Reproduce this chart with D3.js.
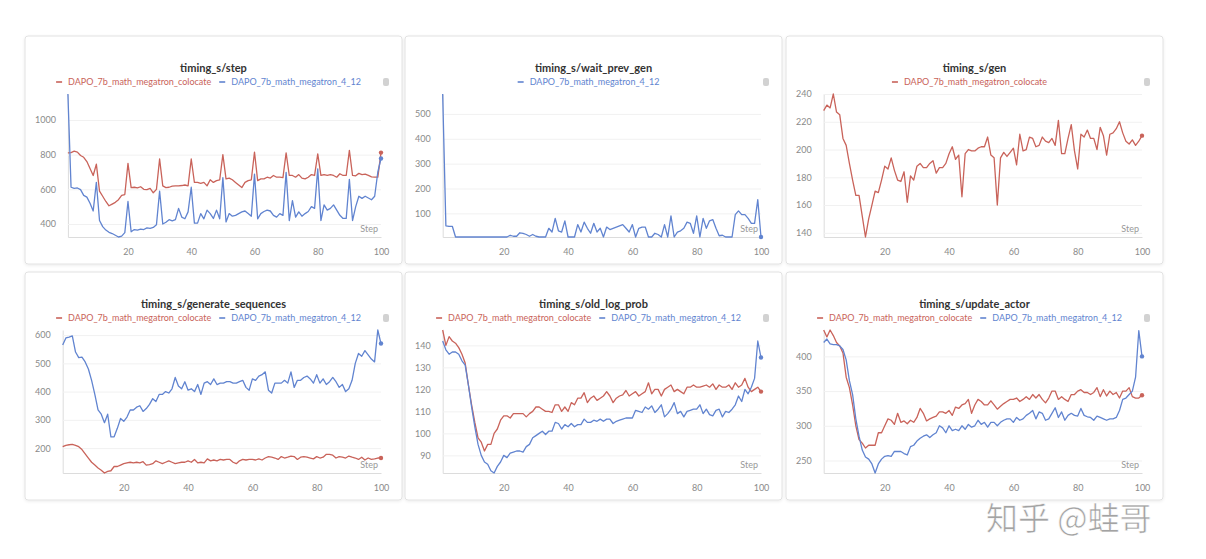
<!DOCTYPE html>
<html>
<head>
<meta charset="utf-8">
<script src="https://cdn.jsdelivr.net/npm/d3@7"></script>
<style>
  body { margin: 0; background: #fff; font-family: Lato, "Noto Sans", sans-serif; }
</style>
</head>
<body>
<svg id="chart" width="1206" height="559"></svg>
<script>
////////// dados

const steps = d3.range(1, 101);
const xTicks = [20, 40, 60, 80, 100];

const nameRed = 'DAPO_7b_math_megatron_colocate';
const nameBlue = 'DAPO_7b_math_megatron_4_12';

const titles = ['timing_s/step', 'timing_s/wait_prev_gen', 'timing_s/gen',
  'timing_s/generate_sequences', 'timing_s/old_log_prob', 'timing_s/update_actor'];

const stepRed = [810,812,820,815,795,785,760,720,680,745, 590,560,530,505,515,525,540,565,570,750,
  610,612,608,615,600,598,605,580,600,775, 620,610,612,618,620,620,622,625,620,775,
  640,640,635,640,620,655,640,650,655,800, 660,665,655,640,625,610,640,650,655,815,
  650,660,660,670,665,680,670,670,668,810, 680,680,670,685,665,660,670,685,680,805,
  680,685,680,685,680,670,690,680,680,825, 680,678,692,685,688,680,672,670,670,812];

const stepBlue = [1150,612,605,608,598,565,555,520,475,640, 420,385,365,352,345,335,325,330,350,530,
  355,368,365,370,368,378,375,380,395,590, 400,410,425,418,425,490,440,430,470,612,
  405,405,460,430,480,460,432,480,430,668, 412,460,445,450,460,470,475,460,445,688,
  430,460,472,480,475,450,440,460,450,698, 420,535,440,470,445,460,472,500,490,718,
  420,510,480,490,510,480,450,432,432,658, 420,500,560,548,560,550,540,560,700,778];

const waitBlue = [580,50,48,48,5,5,5,5,5,5, 5,5,5,5,5,5,5,5,5,5,
  5,12,8,8,22,20,15,8,15,8, 5,5,5,40,25,80,30,25,70,5,
  5,5,55,25,65,40,20,60,25,40, 5,45,35,40,45,50,55,40,25,55,
  5,40,45,45,5,5,20,15,5,55, 5,90,5,25,30,40,65,60,20,90,
  5,80,40,70,75,40,10,12,5,5, 5,95,110,95,95,80,60,60,155,5];

const genRed = [228,232,230,240,227,225,208,203,190,178, 167,167,152,137,150,160,170,169,178,188,
  186,194,185,178,177,184,162,181,178,188, 190,187,187,190,192,183,187,187,190,197,
  202,193,196,166,197,200,199,199,201,202, 202,209,196,194,160,194,198,195,198,201,
  189,211,199,200,209,208,202,203,209,206, 205,208,203,221,197,197,208,218,199,186,
  211,209,214,208,208,200,216,210,196,211, 212,215,220,212,206,204,207,203,206,210];

const seqRed = [205,210,212,213,210,205,195,180,165,150, 140,130,122,112,118,120,135,135,140,145,
  148,150,148,150,148,152,140,142,145,155, 150,145,150,155,150,145,148,150,150,155,
  150,160,148,150,148,162,155,158,155,160, 158,160,160,150,145,155,160,158,160,160,
  158,162,158,165,170,168,165,160,170,165, 168,172,170,160,168,170,168,165,162,170,
  165,168,178,178,175,165,170,168,165,172, 168,165,160,168,158,165,160,162,165,165];

const seqBlue = [565,590,593,597,540,520,522,505,480,440, 390,335,320,290,320,240,240,270,305,295,
  310,335,335,345,350,330,340,355,375,365, 390,390,400,395,410,450,420,410,435,405,
  410,400,425,390,430,435,425,445,425,430, 430,435,435,430,430,435,440,415,405,445,
  440,455,460,470,405,395,430,430,430,440, 430,470,415,440,440,450,455,445,430,460,
  430,445,425,435,450,435,415,425,400,410, 440,500,535,525,545,530,515,505,618,570];

const oldRed = [147,140,144,142,141,139,136,132,122,113, 105,98,96,92,95,95,100,102,106,108,
  108,107,109,109,109,109,107.5,109,110,112, 112,111,110,110,109.5,113,113,110,112,110,
  114,113,116,116,118.5,114,116,117,115,116, 117,119,117,114,116,117,117.5,119.5,117,118,
  119,117,118,119,123,118,120,120,117,120, 121,122,119,120,119,118,121,121,122,121,
  121,121.5,122,121,122.5,120,122,121,121,122, 120,123,121,122,125,121,119,120,121,119];

const oldBlue = [142,138,136,137,137,136,133,131,122,112, 103,95,90,87,86,83,82,85,87,90,
  89,91,91.5,92,92,91.5,94,95,98,99, 100,101,99.5,101,101,105,104.5,102,104,103,
  104.5,103,104,104,106.5,105,105,106,105.5,106.5, 105.5,106.5,106.5,104.5,105.5,106,106.5,107,107,107,
  110.5,110,109.5,112,111,112.5,109.5,111,113,107.5, 109,111,114,109,110,107.5,110,110.5,111,111,
  113,109,111,108.5,108,110.5,111,107.5,110,109.5, 111,113,117,114.5,120,118,121,125,142,134.5];

const updRed = [438,428,438,430,420,415,405,370,355,330, 300,280,275,268,272,272,272,290,290,300,
  310,308,302,318,305,307,303,308,305,312, 325,318,307,310,312,314,320,320,318,322,
  315,327,325,330,332,338,318,330,338,335, 330,330,336,330,324,328,332,335,338,338,
  340,335,338,342,338,345,340,345,338,333, 340,350,350,338,342,338,335,345,345,350,
  352,348,348,345,348,355,342,352,343,350, 345,348,340,350,350,355,342,340,340,344];

const updBlue = [420,425,418,417,417,415,410,395,365,345, 310,285,265,255,252,245,232,245,252,256,
  257,256,263,263,263,260,258,270,272,278, 282,285,287,283,287,290,300,297,290,300,
  293,295,293,300,295,302,298,300,308,302, 305,298,305,305,300,305,308,310,310,305,
  312,308,310,315,318,322,310,320,318,308, 310,318,326,312,320,308,315,318,315,314,
  325,315,313,312,308,314,312,310,308,310, 310,312,322,338,340,345,350,370,437,400];

const red = '#c9635a';
const blue = '#6184d0';

const panels = [
  {title: titles[0], series: [{name: nameRed, color: red, values: stepRed}, {name: nameBlue, color: blue, values: stepBlue}]},
  {title: titles[1], series: [{name: nameBlue, color: blue, values: waitBlue}]},
  {title: titles[2], series: [{name: nameRed, color: red, values: genRed}]},
  {title: titles[3], series: [{name: nameRed, color: red, values: seqRed}, {name: nameBlue, color: blue, values: seqBlue}]},
  {title: titles[4], series: [{name: nameRed, color: red, values: oldRed}, {name: nameBlue, color: blue, values: oldBlue}]},
  {title: titles[5], series: [{name: nameRed, color: red, values: updRed}, {name: nameBlue, color: blue, values: updBlue}]}
];

////////// layout

const cols = [25, 405, 786];
const rows = [36, 272];
const boxW = 377;
const boxH = 228;
const plotTop = 58;
const plotBottom = 201;
const plotRight = boxW - 21;

const svg = d3.select('#chart');

svg.append('rect')
  .attr('width', 1206)
  .attr('height', 559)
  .attr('fill', '#fff');

const defs = svg.append('defs');
defs.append('filter')
  .attr('id', 'shadow')
  .attr('x', '-5%').attr('y', '-5%').attr('width', '110%').attr('height', '110%')
  .append('feDropShadow')
  .attr('dx', 0).attr('dy', 1).attr('stdDeviation', 1.5)
  .attr('flood-color', '#000').attr('flood-opacity', 0.08);

// desenha um painel
function drawPanel(panel, i) {
  const g = svg.append('g')
    .attr('transform', 'translate(' + cols[i % 3] + ',' + rows[Math.floor(i / 3)] + ')');

  g.append('rect')
    .attr('width', boxW)
    .attr('height', boxH)
    .attr('rx', 3)
    .attr('fill', '#fff')
    .attr('stroke', '#e2e2e2')
    .attr('filter', 'url(#shadow)');

  g.append('text')
    .attr('x', boxW / 2)
    .attr('y', 36)
    .attr('text-anchor', 'middle')
    .attr('font-size', 11)
    .attr('font-weight', 'bold')
    .attr('fill', '#333')
    .text(panel.title);

  // legenda
  const legend = g.append('g');
  let lx = 0;
  panel.series.forEach(s => {
    legend.append('line')
      .attr('x1', lx).attr('x2', lx + 6)
      .attr('y1', 46).attr('y2', 46)
      .attr('stroke', s.color)
      .attr('stroke-width', 1.6);
    const t = legend.append('text')
      .attr('x', lx + 12)
      .attr('y', 49)
      .attr('font-size', 9)
      .attr('fill', s.color)
      .text(s.name);
    lx += 12 + t.node().getComputedTextLength() + 8;
  });
  lx -= 8;
  legend.attr('transform', 'translate(' + (boxW / 2 - 5 - lx / 2) + ',0)');

  g.append('rect')
    .attr('x', boxW - 19)
    .attr('y', 42)
    .attr('width', 6)
    .attr('height', 8)
    .attr('rx', 2)
    .attr('fill', '#d2d2d2');

  // escalas
  const all = panel.series.flatMap(s => s.values);
  const y = d3.scaleLinear()
    .domain(d3.extent(all))
    .range([plotBottom, plotTop]);

  const fmt = d3.format('d');
  const probe = g.append('text').attr('font-size', 9);
  let maxW = 0;
  y.ticks(5).forEach(t => {
    probe.text(fmt(t));
    maxW = Math.max(maxW, probe.node().getComputedTextLength());
  });
  probe.remove();
  const left = 10 + maxW + 12;

  const x = d3.scaleLinear()
    .domain([1, 100])
    .range([left, plotRight]);

  // eixos
  const yAxis = g.append('g')
    .attr('transform', 'translate(' + left + ',0)')
    .call(d3.axisLeft(y).ticks(5).tickFormat(fmt).tickSize(-(plotRight - left)).tickSizeOuter(0).tickPadding(12));
  yAxis.select('.domain').attr('stroke', '#dcdcdc');
  yAxis.selectAll('.tick line').attr('stroke', '#f1f1f1');
  yAxis.selectAll('.tick text').attr('fill', '#8a8a8a').attr('font-size', 9).attr('font-family', 'Lato, "Noto Sans", sans-serif');

  const xAxis = g.append('g')
    .attr('transform', 'translate(0,' + plotBottom + ')')
    .call(d3.axisBottom(x).tickValues(xTicks).tickSize(0).tickPadding(12));
  xAxis.select('.domain').attr('stroke', '#dcdcdc');
  xAxis.selectAll('.tick text').attr('fill', '#8a8a8a').attr('font-size', 9).attr('font-family', 'Lato, "Noto Sans", sans-serif');

  g.append('text')
    .attr('x', plotRight - 3)
    .attr('y', plotBottom - 5)
    .attr('text-anchor', 'end')
    .attr('font-size', 9)
    .attr('fill', '#999')
    .text('Step');

  // séries
  const line = d3.line()
    .x((d, k) => x(steps[k]))
    .y(d => y(d));

  panel.series.forEach(s => {
    g.append('path')
      .datum(s.values)
      .attr('d', line)
      .attr('fill', 'none')
      .attr('stroke', s.color)
      .attr('stroke-width', 1.3)
      .attr('stroke-linejoin', 'round');
    g.append('circle')
      .attr('cx', x(steps[steps.length - 1]))
      .attr('cy', y(s.values[s.values.length - 1]))
      .attr('r', 2.2)
      .attr('fill', s.color);
  });
}

panels.forEach((p, i) => drawPanel(p, i));

// marca d'água
svg.append('text')
  .attr('x', 986)
  .attr('y', 530)
  .attr('font-family', '"Noto Sans CJK SC", sans-serif')
  .attr('font-size', 32)
  .attr('fill', '#a3a3a3')
  .attr('stroke', '#fff')
  .attr('stroke-width', 0.6)
  .text('知乎 @蛙哥');
</script>
</body>
</html>
